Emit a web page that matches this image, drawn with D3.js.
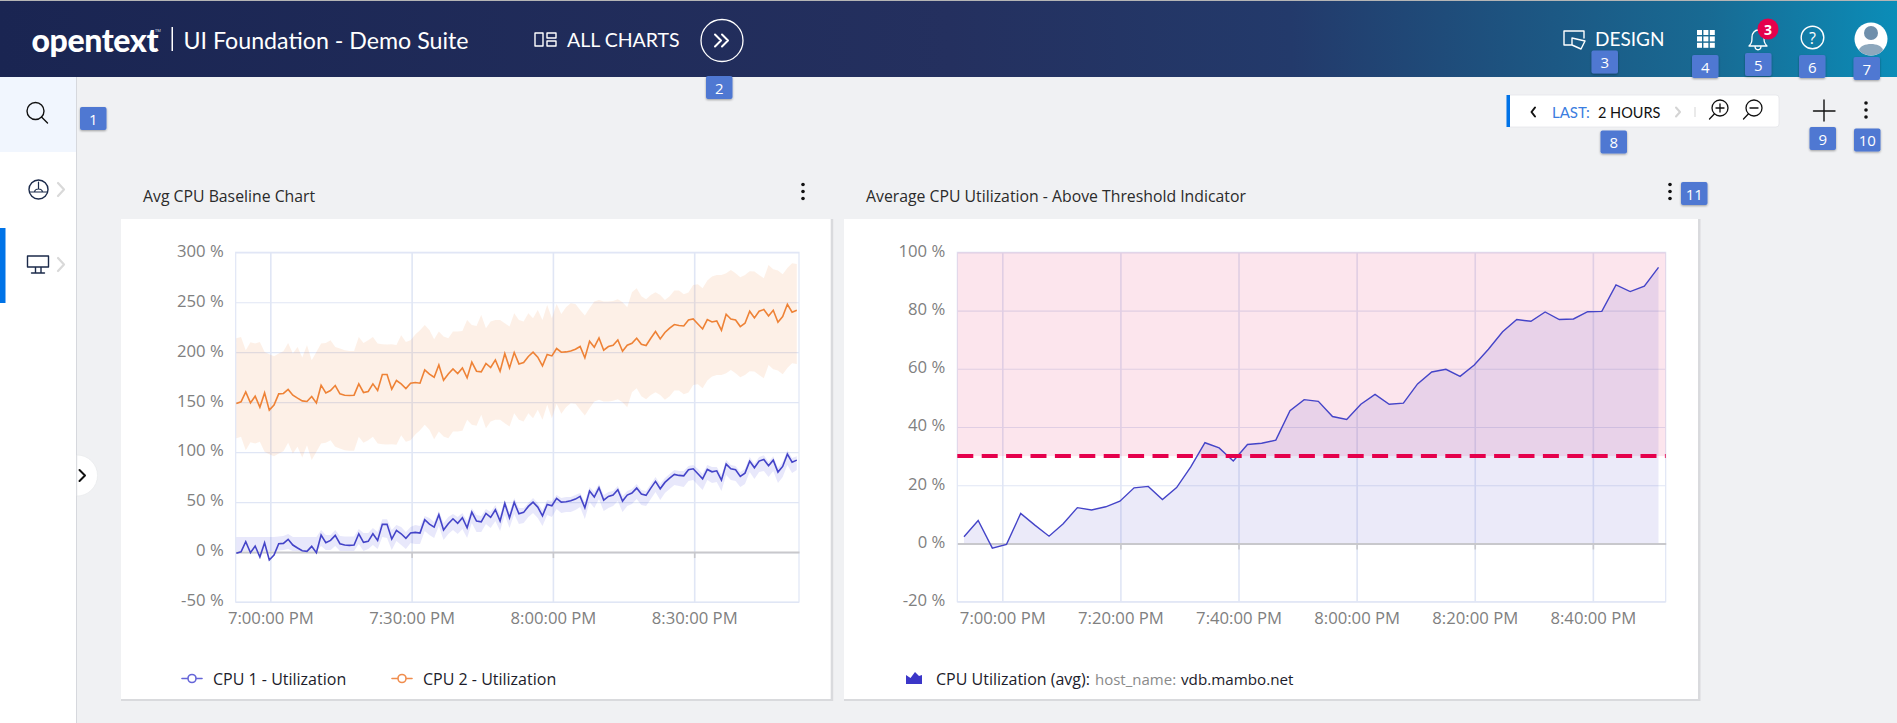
<!DOCTYPE html>
<html>
<head>
<meta charset="utf-8">
<title>UI Foundation - Demo Suite</title>
<script src="https://d3js.org/d3.v7.min.js"></script>
<style>
  html, body { margin: 0; padding: 0; background: #f0f1f3; overflow: hidden; }
  text { font-family: "Open Sans", sans-serif; }
</style>
</head>
<body>
<div id="page"></div>
<script>
// chart 1 - one sample a minute
var baselineStart = "6:52:47 PM";
var baselineStepSeconds = 60;
var baselineDomain = ["6:52:39 PM", "8:52:15 PM"];
var baselineTimeTicks = ["7:00:00 PM", "7:30:00 PM", "8:00:00 PM", "8:30:00 PM"];
var baselineValueTicks = [-50, 0, 50, 100, 150, 200, 250, 300];

var cpu1Values = [
  -1.3,0.3,10.3,-0.7,6,-5,9.3,-8,-3,8.3,
  8.7,12.7,7,4,1.3,0.7,5.7,-0.7,17,9.3,
  11.7,16.7,8.3,7,6.7,7,18.3,9.7,10.7,18.3,
  11.7,27.7,27.7,13,21.7,18.3,13.7,19,19.7,19,
  32.3,28,25,37.3,22,28.3,33.3,28.7,34.3,24.3,
  40,31,30.3,38.7,34.7,42.3,31,48.7,34.3,49.7,
  38.3,39.7,45.7,50,45,36.3,47.7,46.3,53.7,50,
  50.3,51.3,53,55.7,44.3,61,55,64.3,52,55.7,
  57,62.3,51,57,59,64,58,56.7,64,70.7,
  63.3,69.7,74,77.7,76.7,76.3,82.3,83.3,78.3,73.3,
  82.7,80.3,81.3,72,88,83.3,82.3,75.7,79,91,
  84.3,91,92.7,86.3,92,80,85.7,98,90,92
];
var cpu1Upper = [
  15,15,15,15,15,15,15,15,15,15.5,
  16,18,15,15,15,15,15,15,22,17,
  17,22,16,15.5,15.5,15.5,23,19,19,24,
  20,32.7,32.7,22,27,25,20,25,27,26,
  36,34,30,41,29,35,38,35,39,31,
  44,37,36,43,40,47,37,52,40,54,
  44,44,49,54,49,42,52,51,57,54,
  55,55,57,59,50,65,60,68,57,60,
  61,66,56,61,63,68,62,61,68,75,
  68,74,78,82,81,81,86,87,83,78,
  87,85,85,77,92,87,86,80,83,95,
  88,95,97,90,96,84,90,102,94,96
];
var cpu1Lower = [
  1,1,1,1,1,1,1,1,1,1.5,
  2,3,1,1,0.5,0.5,1,0.5,6,2,
  2,6,1,1,1,1,8,1,3,7,
  3,15,14,2,11,7,3,9,8,8,
  21,17,14,26,12,18,22,18,23,14,
  29,20,20,28,24,31,21,37,24,38,
  28,29,35,39,34,26,37,35,43,39,
  40,40,42,45,33,50,44,53,41,44,
  46,51,40,46,48,53,47,46,53,60,
  52,59,63,67,66,65,71,72,67,62,
  72,69,70,61,77,72,71,65,68,80,
  73,80,81,75,81,69,75,87,79,82
];
var cpu2Values = [
  148.7,150.3,160.3,149.3,156,145,159.3,142,147,158.3,
  158.7,162.7,157,154,151.3,150.7,155.7,149.3,167,159.3,
  161.7,166.7,158.3,157,156.7,157,168.3,159.7,160.7,168.3,
  161.7,177.7,177.7,163,171.7,168.3,163.7,169,169.7,169,
  182.3,178,175,187.3,172,178.3,183.3,178.7,184.3,174.3,
  190,181,180.3,188.7,184.7,192.3,181,198.7,184.3,199.7,
  188.3,189.7,195.7,200,195,186.3,197.7,196.3,203.7,200,
  200.3,201.3,203,205.7,194.3,211,205,214.3,202,205.7,
  207,212.3,201,207,209,214,208,206.7,214,220.7,
  213.3,219.7,224,227.7,226.7,226.3,232.3,233.3,228.3,223.3,
  232.7,230.3,231.3,222,238,233.3,232.3,225.7,229,241,
  234.3,241,242.7,236.3,242,230,235.7,248,240,242
];
var cpu2Upper = [
  214,215.3,202,210,208.7,210.3,200.3,198,196,198.7,
  201,209.3,198.7,205.3,194.7,207,192,200.3,208.7,209.3,
  212,205.3,203.7,202,201.3,201.3,215.3,209.3,212,215.3,
  208.7,208,207.7,208,207.3,217,210.3,212,217.7,222,
  227.3,222.3,213,220.7,215.7,214,220.7,220.7,221.3,232.3,
  227.3,226.3,237.3,224,230.7,232.3,232.3,229,225.7,239,
  232.3,230.7,239,234,242.3,232.3,247.3,234,248.3,238.3,
  245,249,248.3,242.3,236.7,244,250.7,252.3,250.7,250.7,
  251.3,253,250,245,260,264,256,253,257.3,260,
  257.3,252.3,256,261.7,261.7,258,259.7,267.3,268,264,
  271.7,275.7,277.3,277.3,279,282.3,279,275,277.3,281,
  280.7,277.3,274,287.3,283,281.7,278,284.3,289,288.3
];
var cpu2Lower = [
  114,115.3,102,110,108.7,110.3,100.3,98,96,98.7,
  101,109.3,98.7,105.3,94.7,107,92,100.3,108.7,109.3,
  112,105.3,103.7,102,101.3,101.3,115.3,109.3,112,115.3,
  108.7,108,107.7,108,107.3,117,110.3,112,117.7,122,
  127.3,122.3,113,120.7,115.7,114,120.7,120.7,121.3,132.3,
  127.3,126.3,137.3,124,130.7,132.3,132.3,129,125.7,139,
  132.3,130.7,139,134,142.3,132.3,147.3,134,148.3,138.3,
  145,149,148.3,142.3,136.7,144,150.7,152.3,150.7,150.7,
  151.3,153,150,145,160,164,156,153,157.3,160,
  157.3,152.3,156,161.7,161.7,158,159.7,167.3,168,164,
  171.7,175.7,177.3,177.3,179,182.3,179,175,177.3,181,
  180.7,177.3,174,187.3,183,181.7,178,184.3,189,188.3
];

// chart 2 - one sample every 2.4 minutes
var thresholdStart = "6:53:31 PM";
var thresholdStepSeconds = 144;
var thresholdDomain = ["6:52:23 PM", "8:52:20 PM"];
var thresholdTimeTicks = ["7:00:00 PM", "7:20:00 PM", "7:40:00 PM", "8:00:00 PM", "8:20:00 PM", "8:40:00 PM"];
var thresholdValueTicks = [-20, 0, 20, 40, 60, 80, 100];
var thresholdLevel = 30;
var cpuAvgValues = [
  2.3,7.9,-1.6,-0.3,10.3,6.3,2.5,6.8,12.3,11.5,
  12.6,14.5,19.1,19.6,15.1,19.2,26.3,34.6,32.8,28.3,
  34,34.4,35.5,45.6,49.4,48.8,43.6,42.6,47.8,51.2,
  47.8,48.2,54.8,58.9,59.8,57.4,61.3,66.7,72.7,76.9,
  76.3,79.5,76.9,77.1,79.6,79.7,88.8,86.5,88.4,94.8
];

var parseTime = d3.timeParse("%I:%M:%S %p");
var formatTime = d3.timeFormat("%-I:%M:%S %p");
var width = 1897, height = 723;
var axisGrey = "#808080", gridColor = "#e0e6f5", zeroColor = "#c8c8cc";
var blue = "#4444c8", orange = "#ee8236", badgeBlue = "#4f78d2", accent = "#0073e7";

var svg = d3.select("#page").append("svg")
  .attr("width", width).attr("height", height)
  .style("display", "block");

var defs = svg.append("defs");
var grad = defs.append("linearGradient").attr("id", "headerGrad")
  .attr("gradientUnits", "userSpaceOnUse")
  .attr("x1", 0).attr("y1", 60).attr("x2", width).attr("y2", 0);
[[0, "#1a2552"], [0.5, "#24305f"], [0.68, "#233a6b"], [0.9, "#186a93"], [1, "#0b8db8"]].forEach(function(s) {
  grad.append("stop").attr("offset", s[0]).attr("stop-color", s[1]);
});
var shadow = defs.append("filter").attr("id", "badgeShadow")
  .attr("x", "-30%").attr("y", "-30%").attr("width", "160%").attr("height", "160%");
shadow.append("feDropShadow").attr("dx", 0).attr("dy", 1).attr("stdDeviation", 1).attr("flood-color", "#000").attr("flood-opacity", 0.35);

function label(parent, x, y, str, size, color, anchor, weight) {
  return parent.append("text")
    .attr("x", x).attr("y", y)
    .attr("dominant-baseline", "central")
    .attr("text-anchor", anchor || "start")
    .attr("font-size", size)
    .attr("font-weight", weight || 400)
    .attr("fill", color)
    .text(str);
}

function icon(d, color, w) {
  return svg.append("path").attr("d", d)
    .attr("fill", "none")
    .attr("stroke", color)
    .attr("stroke-width", w || 1.5)
    .attr("stroke-linecap", "round")
    .attr("stroke-linejoin", "round");
}

function kebab(x, y0, color) {
  [0, 7, 14].forEach(function(dy) {
    svg.append("circle").attr("cx", x).attr("cy", y0 + dy).attr("r", 1.8).attr("fill", color || "#111");
  });
}

function magnifier(cx, cy, sign) {
  svg.append("circle").attr("cx", cx).attr("cy", cy).attr("r", 8)
    .attr("fill", "none").attr("stroke", "#111").attr("stroke-width", 1.3);
  icon("M" + (cx - 5.5) + "," + (cy + 5.8) + "L" + (cx - 10.5) + "," + (cy + 11), "#111", 1.3);
  icon("M" + (cx - 4) + "," + cy + "H" + (cx + 4), "#111", 1.3);
  if (sign === "+") icon("M" + cx + "," + (cy - 4) + "V" + (cy + 4), "#111", 1.3);
}

function drawHeader() {
  svg.append("rect").attr("width", width).attr("height", 77).attr("fill", "url(#headerGrad)");
  svg.append("rect").attr("width", width).attr("height", 1).attr("fill", "#b5b5b5");

  label(svg, 31.5, 39, "opentext", 32, "#fff", "start", 900).attr("letter-spacing", -0.4).style("font-family", "Lato");
  label(svg, 155, 30, "TM", 4, "#dfe3ee");
  svg.append("rect").attr("x", 171.5).attr("y", 27).attr("width", 1.5).attr("height", 24).attr("fill", "#fff");
  label(svg, 183.5, 39.5, "UI Foundation - Demo Suite", 23.2, "#fff").style("font-family", "Lato");

  icon("M535,33H543V46H535ZM547,33H556V38H547ZM547,41H556V46H547Z", "#fff", 1.4);
  label(svg, 567, 39.5, "ALL CHARTS", 19.5, "#fff").style("font-family", "Lato");
  svg.append("circle").attr("cx", 722).attr("cy", 40.5).attr("r", 21).attr("fill", "none").attr("stroke", "#fff").attr("stroke-width", 1.3);
  icon("M715,34.5L721,40.5L715,46.5M722,34.5L728,40.5L722,46.5", "#fff", 2);

  icon("M1564,31H1584V38M1564,31V45H1571M1572,38L1585,41L1581,49L1572,45Z", "#fff", 1.4);
  label(svg, 1595, 38.5, "DESIGN", 19, "#fff").style("font-family", "Lato");

  // 3 x 3 app grid, cells are fixed icon geometry
  d3.range(9).forEach(function(i) {
    svg.append("rect")
      .attr("x", 1697 + (i % 3) * 6.4).attr("y", 30 + Math.floor(i / 3) * 6.4)
      .attr("width", 5).attr("height", 5).attr("fill", "#fff");
  });

  icon("M1749,46C1752,43 1752,41 1752,37C1752,33 1755,30 1758,30C1761,30 1764,33 1764,37C1764,41 1764,43 1767,46ZM1755,46C1755,51 1761,51 1761,46", "#fff", 1.3);
  svg.append("circle").attr("cx", 1768).attr("cy", 29).attr("r", 10.5).attr("fill", "#e5004c");
  label(svg, 1768, 29, "3", 14, "#fff", "middle", 700);

  svg.append("circle").attr("cx", 1812.5).attr("cy", 37.5).attr("r", 11.3).attr("fill", "none").attr("stroke", "#fff").attr("stroke-width", 1.4);
  label(svg, 1812.5, 37.5, "?", 16, "#fff", "middle");

  svg.append("circle").attr("cx", 1871).attr("cy", 39).attr("r", 16.5).attr("fill", "#fff");
  svg.append("circle").attr("cx", 1871).attr("cy", 33).attr("r", 7).attr("fill", "#6f8fab");
  svg.append("path").attr("d", "M1859,50C1861,42 1881,42 1883,50C1879,57 1863,57 1859,50Z").attr("fill", "#8ea8bd");
}

function drawSidebar() {
  svg.append("rect").attr("x", 0).attr("y", 77).attr("width", 76).attr("height", height - 77).attr("fill", "#fff");
  svg.append("rect").attr("x", 76).attr("y", 77).attr("width", 1).attr("height", height - 77).attr("fill", "#d6d8dd");
  svg.append("rect").attr("x", 0).attr("y", 77).attr("width", 76).attr("height", 75).attr("fill", "#f1f6fe");
  svg.append("rect").attr("x", 0).attr("y", 228).attr("width", 5.5).attr("height", 75).attr("fill", accent);

  svg.append("circle").attr("cx", 35.5).attr("cy", 111).attr("r", 8.5).attr("fill", "none").attr("stroke", "#111").attr("stroke-width", 1.4);
  icon("M41.5,117L47.5,123", "#111", 1.4);

  svg.append("circle").attr("cx", 38.5).attr("cy", 189.5).attr("r", 9.5).attr("fill", "none").attr("stroke", "#1b2a4a").attr("stroke-width", 1.4);
  icon("M29.5,192H47.5M34.5,192C35,188 42,188 42.5,192M38.5,189V182", "#1b2a4a", 1.2);
  icon("M58,183L64,189.5L58,196", "#d9d9d9", 2.2);

  icon("M27.5,256H48.5V267H27.5ZM35.5,267V272.5M41,267V272.5M31.5,273H44.5", "#1b2a4a", 1.4);
  icon("M58,258L64,264.5L58,271", "#d9d9d9", 2.2);

  svg.append("path").attr("d", "M77,455A20.5,20.5 0 0 1 77,496Z").attr("fill", "#fff").attr("stroke", "#e6e7ea").attr("stroke-width", 0.6);
  icon("M79.5,470L85,475.5L79.5,481", "#111", 2);
}

function drawToolbar() {
  svg.append("rect").attr("x", 1507).attr("y", 95).attr("width", 272).attr("height", 32).attr("rx", 3)
    .attr("fill", "#fff").attr("stroke", "#e5e6ea").attr("stroke-width", 0.8);
  svg.append("rect").attr("x", 1506.5).attr("y", 95).attr("width", 3.5).attr("height", 32).attr("fill", accent);
  icon("M1535,107.5L1531.5,112L1535,116.5", "#111", 2);
  label(svg, 1552, 112, "LAST:", 15, "#3b7de0").style("font-family", "Lato");
  label(svg, 1598, 112, "2 HOURS", 14.5, "#111").style("font-family", "Lato");
  icon("M1676,107.5L1680,112L1676,116.5", "#d4d4d4", 2);
  svg.append("rect").attr("x", 1694.5).attr("y", 107).attr("width", 1).attr("height", 10).attr("fill", "#d6d6d6");
  magnifier(1720, 108, "+");
  magnifier(1754, 108, "-");
  icon("M1813.5,111H1835M1824,100V121", "#111", 1.4);
  kebab(1866, 103);
}

function drawBadges() {
  var badgeLabels = ["1", "2", "3", "4", "5", "6", "7", "8", "9", "10", "11"];
  var badgeX = [80, 706, 1591.5, 1692, 1745, 1799, 1853.5, 1600.5, 1809.5, 1854, 1681];
  var badgeY = [107, 76, 50.5, 55, 53, 55, 57, 130.5, 127, 128.5, 182];
  badgeLabels.forEach(function(t, i) {
    svg.append("rect").attr("x", badgeX[i]).attr("y", badgeY[i]).attr("width", 26.5).attr("height", 23).attr("rx", 2)
      .attr("fill", badgeBlue).attr("filter", "url(#badgeShadow)");
    label(svg, badgeX[i] + 13.25, badgeY[i] + 11.5, t, 15, "#fff", "middle");
  });
}

function drawCard(x0, x1, title, titleX, kebabX) {
  svg.append("rect").attr("x", x0).attr("y", 219).attr("width", x1 - x0 + 2.5).attr("height", 482).attr("fill", "#d9dadd");
  svg.append("rect").attr("x", x0).attr("y", 219).attr("width", x1 - x0).attr("height", 480).attr("fill", "#fff");
  label(svg, titleX, 195.5, title, 15.8, "#2b2b2b");
  kebab(kebabX, 184.5);
}

// grid, frame, zero line and labels shared by both charts
function drawFrame(g, x, y, timeTicks, valueTicks) {
  var left = x.range()[0], right = x.range()[1], top = y.range()[1], bottom = y.range()[0];

  g.append("g")
    .attr("transform", "translate(" + left + ",0)")
    .call(d3.axisLeft(y).tickValues(valueTicks).tickSize(-(right - left)).tickFormat(""))
    .call(function(a) { a.select(".domain").remove(); })
    .selectAll("line").attr("stroke", gridColor).attr("stroke-width", 1.2);

  g.append("g")
    .attr("transform", "translate(0," + bottom + ")")
    .call(d3.axisBottom(x).tickValues(timeTicks).tickSize(-(bottom - top)).tickFormat(""))
    .call(function(a) { a.select(".domain").remove(); })
    .selectAll("line").attr("stroke", gridColor).attr("stroke-width", 1.6);

  g.append("rect")
    .attr("x", left).attr("y", top).attr("width", right - left).attr("height", bottom - top)
    .attr("fill", "none").attr("stroke", gridColor).attr("stroke-width", 1.2);

  var yAxis = g.append("g")
    .attr("transform", "translate(" + left + ",-1.5)")
    .call(d3.axisLeft(y).tickValues(valueTicks).tickSize(0).tickPadding(12).tickFormat(function(d) { return d + " %"; }));
  yAxis.select(".domain").remove();
  yAxis.selectAll("text").attr("fill", axisGrey).attr("font-size", 16.7).style("font-family", '"Open Sans", sans-serif');

  var xAxis = g.append("g")
    .attr("transform", "translate(0," + bottom + ")")
    .call(d3.axisBottom(x).tickValues(timeTicks).tickSize(0).tickPadding(10.5).tickFormat(formatTime));
  xAxis.select(".domain").remove();
  xAxis.selectAll("text").attr("fill", axisGrey).attr("font-size", 16.7).style("font-family", '"Open Sans", sans-serif');
}

function drawZeroAxis(g, x, y, timeTicks) {
  var zero = g.append("g")
    .attr("transform", "translate(0," + y(0) + ")")
    .call(d3.axisBottom(x).tickValues(timeTicks.slice(1)).tickSize(6).tickSizeOuter(0).tickFormat(""));
  zero.select(".domain").attr("stroke", zeroColor).attr("stroke-width", 2);
  zero.selectAll("line").attr("stroke", zeroColor).attr("stroke-width", 1.6);
}

function drawBaselineChart() {
  var g = svg.append("g");
  var times = cpu1Values.map(function(d, i) {
    return d3.timeSecond.offset(parseTime(baselineStart), i * baselineStepSeconds);
  });
  var timeTicks = baselineTimeTicks.map(parseTime);
  var x = d3.scaleTime().domain(baselineDomain.map(parseTime)).range([235.7, 799]);
  var y = d3.scaleLinear().domain([-50, 300]).range([602, 252.3]);

  drawFrame(g, x, y, timeTicks, baselineValueTicks);

  function band(lower, upper, fill) {
    var area = d3.area()
      .x(function(d, i) { return x(times[i]); })
      .y0(function(d, i) { return y(lower[i]); })
      .y1(function(d, i) { return y(upper[i]); });
    g.append("path").datum(upper).attr("d", area).attr("fill", fill);
  }
  band(cpu2Lower, cpu2Upper, "rgba(238,130,54,0.12)");
  band(cpu1Lower, cpu1Upper, "rgba(68,68,220,0.12)");

  drawZeroAxis(g, x, y, timeTicks);

  var line = d3.line()
    .x(function(d, i) { return x(times[i]); })
    .y(function(d) { return y(d); });
  g.append("path").datum(cpu2Values).attr("d", line).attr("fill", "none").attr("stroke", orange).attr("stroke-width", 1.6);
  g.append("path").datum(cpu1Values).attr("d", line).attr("fill", "none").attr("stroke", blue).attr("stroke-width", 1.6);

  function legendItem(lx, color, str) {
    icon("M" + lx + ",678.5H" + (lx + 20), color, 1.6);
    svg.append("circle").attr("cx", lx + 10).attr("cy", 678.5).attr("r", 4)
      .attr("fill", "#fff").attr("stroke", color).attr("stroke-width", 1.6);
    label(svg, lx + 31, 678.5, str, 16, "#1c1c2b");
  }
  legendItem(182, "#6565d8", "CPU 1 - Utilization");
  legendItem(392, "#f08d4e", "CPU 2 - Utilization");
}

function drawThresholdChart() {
  var g = svg.append("g");
  var times = cpuAvgValues.map(function(d, i) {
    return d3.timeSecond.offset(parseTime(thresholdStart), i * thresholdStepSeconds);
  });
  var timeTicks = thresholdTimeTicks.map(parseTime);
  var x = d3.scaleTime().domain(thresholdDomain.map(parseTime)).range([957.3, 1665.7]);
  var y = d3.scaleLinear().domain([-20, 100]).range([601.7, 252.3]);

  drawFrame(g, x, y, timeTicks, thresholdValueTicks);

  // region above the threshold
  g.append("rect")
    .attr("x", x.range()[0]).attr("y", y(100))
    .attr("width", x.range()[1] - x.range()[0])
    .attr("height", y(thresholdLevel) - y(100))
    .attr("fill", "rgba(229,0,80,0.10)");

  var area = d3.area()
    .x(function(d, i) { return x(times[i]); })
    .y0(y(0))
    .y1(function(d) { return y(d); });
  g.append("path").datum(cpuAvgValues).attr("d", area).attr("fill", "rgba(68,60,200,0.105)");

  drawZeroAxis(g, x, y, timeTicks);

  var line = d3.line()
    .x(function(d, i) { return x(times[i]); })
    .y(function(d) { return y(d); });
  g.append("path").datum(cpuAvgValues).attr("d", line).attr("fill", "none").attr("stroke", blue).attr("stroke-width", 1.4);

  g.append("line")
    .attr("x1", x.range()[0]).attr("x2", x.range()[1])
    .attr("y1", y(thresholdLevel)).attr("y2", y(thresholdLevel))
    .attr("stroke", "#e5004c").attr("stroke-width", 4).attr("stroke-dasharray", "16 8.4");

  svg.append("path").attr("d", "M906,684V675L910.5,678L915,672L919,676L922,675V684Z").attr("fill", "#3b36c8");
  label(svg, 936, 678.5, "CPU Utilization (avg):", 16, "#1c1c2b");
  label(svg, 1095, 678.5, "host_name:", 15, "#8a8a8a");
  label(svg, 1181, 678.5, "vdb.mambo.net", 15.2, "#1c1c2b");
}

drawHeader();
drawSidebar();
drawToolbar();
drawCard(121, 830.7, "Avg CPU Baseline Chart", 143, 803);
drawCard(844, 1698, "Average CPU Utilization - Above Threshold Indicator", 866, 1670);
drawBaselineChart();
drawThresholdChart();
drawBadges();
</script>
</body>
</html>
